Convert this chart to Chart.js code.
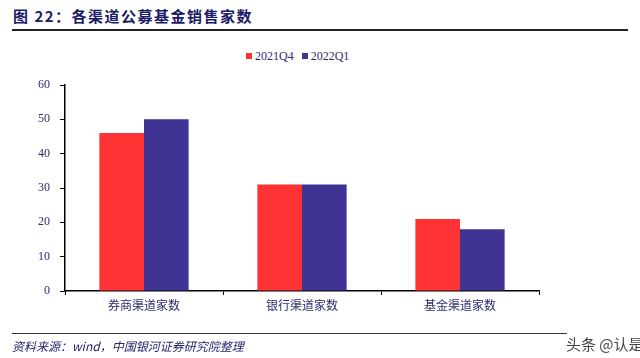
<!DOCTYPE html>
<html>
<head>
<meta charset="utf-8">
<script src="https://cdn.jsdelivr.net/npm/chart.js@4/dist/chart.umd.min.js"></script>
<style>
html,body{margin:0;padding:0;background:#fff;}
#wrap{position:relative;width:640px;height:358px;overflow:hidden;}
#c{position:absolute;left:0;top:0;}
.t{position:absolute;white-space:nowrap;}
#title{left:13px;top:5px;font-family:"Noto Sans CJK SC","Liberation Serif",serif;font-weight:bold;font-size:15px;color:#1a1a66;letter-spacing:1.5px;}
#line1{position:absolute;left:12px;top:29px;width:616px;height:2px;background:#222;}
#line2{position:absolute;left:12px;top:333px;width:555px;height:1px;background:#333;}
#src{left:12px;top:337px;font-family:"Noto Sans CJK SC",serif;font-style:italic;font-size:12px;color:#1f1f6b;}
#wm{left:566px;top:333px;font-family:"Noto Sans CJK SC",sans-serif;font-size:15px;color:#444;}
#legend{left:246px;top:49px;font-family:"Liberation Serif",serif;font-size:12px;color:#2b2b6e;}
.sq{display:inline-block;width:6px;height:6px;margin-right:3px;vertical-align:1px;}
</style>
</head>
<body>
<div id="wrap">
<div id="title" class="t">图 22：各渠道公募基金销售家数</div>
<div id="line1"></div>
<div id="legend" class="t"></div>
<canvas id="c" width="640" height="358"></canvas>
<div id="line2"></div>
<div id="src" class="t">资料来源：wind，中国银河证券研究院整理</div>
<div id="wm" class="t">头条 @认是</div>
</div>
<script>
const categories = ["券商渠道家数", "银行渠道家数", "基金渠道家数"];
const seriesNames = ["2021Q4", "2022Q1"];
const values2021Q4 = [46, 31, 21];
const values2022Q1 = [50, 31, 18];
const yTicks = [0, 10, 20, 30, 40, 50, 60];

const colors = ["#FF3333", "#3F3393"];
const leg = document.getElementById("legend");
seriesNames.forEach((n, i) => {
  const s = document.createElement("span");
  s.style.marginRight = i === 0 ? "8px" : "0";
  s.innerHTML = '<span class="sq" style="background:' + colors[i] + '"></span>' + n;
  leg.appendChild(s);
});

const navy = "#2b2b6e";
new Chart(document.getElementById("c"), {
  type: "bar",
  data: {
    labels: categories,
    datasets: [
      {label: seriesNames[0], data: values2021Q4, backgroundColor: colors[0], borderWidth: 0, categoryPercentage: 0.565, barPercentage: 1.0},
      {label: seriesNames[1], data: values2022Q1, backgroundColor: colors[1], borderWidth: 0, categoryPercentage: 0.565, barPercentage: 1.0}
    ]
  },
  options: {
    responsive: false,
    animation: false,
    events: [],
    layout: {padding: {left: 0, right: 101, top: 85, bottom: 0}},
    plugins: {legend: {display: false}, tooltip: {enabled: false}},
    scales: {
      x: {
        grid: {display: true, drawOnChartArea: false, drawTicks: true, tickLength: 4, color: "#000", offset: true},
        border: {display: true, color: "#000", width: 1.5},
        ticks: {color: navy, font: {family: "'Noto Sans CJK SC', serif", size: 12}, padding: 3, maxRotation: 0},
        afterFit: s => { s.height = 67; }
      },
      y: {
        min: 0, max: 60,
        afterBuildTicks: s => { s.ticks = yTicks.map(v => ({value: v})); },
        grid: {display: true, drawOnChartArea: false, drawTicks: true, tickLength: 5, color: "#000"},
        border: {display: true, color: "#000", width: 1.5},
        ticks: {color: navy, font: {family: "'Liberation Serif', serif", size: 12}, padding: 10},
        afterFit: s => { s.width = 65; }
      }
    }
  }
});
</script>
</body>
</html>
